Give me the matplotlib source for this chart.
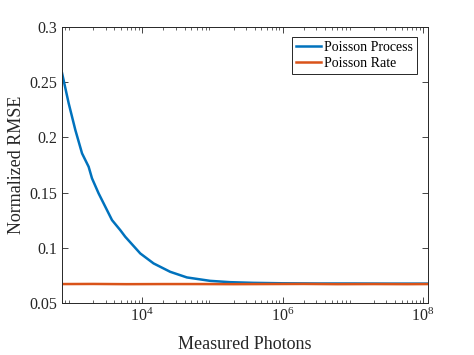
import matplotlib
matplotlib.use("Agg")
import matplotlib.pyplot as plt
from matplotlib.ticker import LogLocator, FormatStrFormatter

plt.rcParams.update({
    "font.family": ["Liberation Serif", "DejaVu Serif"],
    "mathtext.fontset": "stix",
    "font.size": 11,
})

# photons (x) and normalized RMSE
process_x = [721, 895, 1114, 1387, 1722, 1923, 2388, 3707, 4864, 5728, 9376, 14490,
             25000, 43250, 92680, 178600, 380000, 1.0e6, 3.2e6, 1.0e7, 3.2e7, 1.18e8]
process_y = [0.2581, 0.2309, 0.2067, 0.1856, 0.1735, 0.1630, 0.1494, 0.1252, 0.1161,
             0.1101, 0.0950, 0.0860, 0.0784, 0.0733, 0.0702, 0.0690, 0.0684, 0.0680,
             0.0678, 0.0678, 0.0677, 0.0677]

rate_x = [721, 2000, 6000, 20000, 60000, 2.0e5, 6.0e5, 2.0e6, 6.0e6, 2.0e7, 6.0e7, 1.18e8]
rate_y = [0.0673, 0.0674, 0.0672, 0.0673, 0.0673, 0.0672, 0.0673, 0.0674, 0.0672, 0.0673, 0.0672, 0.0673]

y_ticks = [0.05, 0.1, 0.15, 0.2, 0.25, 0.3]

fig = plt.figure(figsize=(4.74, 3.55), dpi=100)
ax = fig.add_axes([0.131, 0.146, 0.772, 0.778])

ax.plot(process_x, process_y, color="#0072BD", linewidth=1.8, label="Poisson Process")
ax.plot(rate_x, rate_y, color="#D95319", linewidth=1.8, label="Poisson Rate")

ax.set_xscale("log")
ax.set_xlim(721, 1.18e8)
ax.set_ylim(0.05, 0.3)
ax.set_xticks([1e4, 1e6, 1e8])
ax.xaxis.set_minor_locator(LogLocator(base=10, subs=range(2, 10), numticks=20))
ax.set_yticks(y_ticks)
ax.yaxis.set_major_formatter(FormatStrFormatter("%g"))
ax.tick_params(which="both", direction="in", top=True, right=True, colors="#262626", labelsize=11.5)
ax.tick_params(which="major", length=4, width=0.6)
ax.tick_params(which="minor", length=2.5, width=0.5)
for s in ax.spines.values():
    s.set_color("#262626")
    s.set_linewidth(0.7)

ax.set_xlabel("Measured Photons", fontsize=13, color="#262626", labelpad=8)
ax.set_ylabel("Normalized RMSE", fontsize=13, color="#262626", labelpad=3)

leg = ax.legend(loc="upper right", fontsize=10, fancybox=False, framealpha=1,
                edgecolor="#262626", handlelength=1.8, handletextpad=0.2,
                borderpad=0.3, labelspacing=0.2, borderaxespad=0,
                bbox_to_anchor=(0.970, 0.964))
leg.get_frame().set_linewidth(0.7)

fig.savefig("out.png", dpi=100)
